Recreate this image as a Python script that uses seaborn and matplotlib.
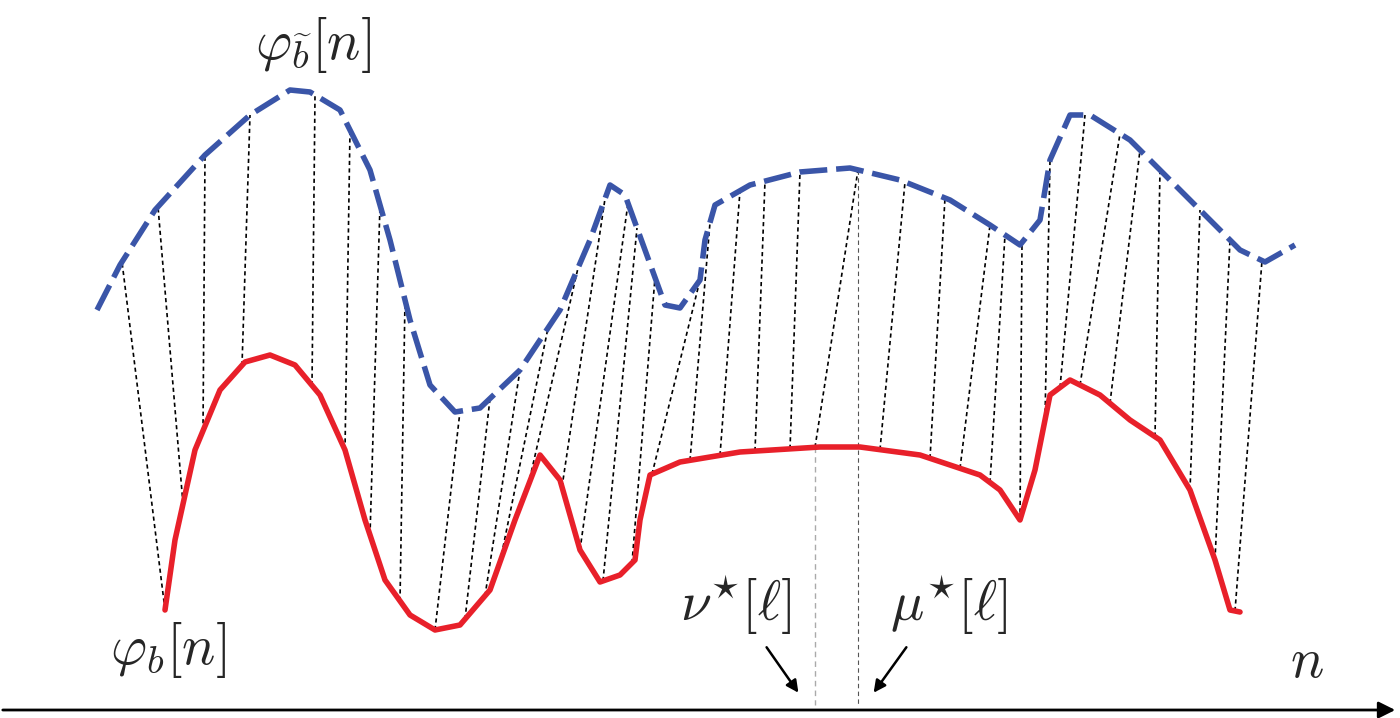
import numpy as np
import matplotlib
matplotlib.use("Agg")
import matplotlib.pyplot as plt
import seaborn as sns

sns.set_theme(style="white")
plt.rcParams['font.family'] = ['DejaVu Sans']
plt.rcParams['mathtext.fontset'] = 'cm'

red_x = [165,175,195,220,245,270,295,320,345,365,385,410,435,460,490,515,540,560,580,600,620,635,640,650,680,740,820,860,920,980,1000,1020,1035,1050,1070,1100,1130,1160,1190,1215,1230,1240]
red_y = [610,540,450,390,362,355,365,395,450,520,580,615,630,625,590,520,455,480,550,582,575,560,520,475,462,452,447,447,455,475,490,520,470,395,380,395,420,440,490,560,610,612]
blue_x = [97,120,155,205,250,290,310,340,370,390,410,430,455,480,520,560,590,610,625,645,665,680,700,705,715,750,800,850,900,950,990,1020,1040,1050,1070,1090,1130,1170,1210,1240,1265,1295]
blue_y = [310,265,210,155,115,90,92,110,170,240,320,385,412,408,370,310,240,185,195,250,305,308,280,240,205,185,172,168,180,200,225,245,220,160,115,115,140,180,220,250,262,245]

pair_red = [165,183,203,242,312,345,370,400,435,465,485,500,528,562,580,603,632,652,690,720,755,790,815,880,930,960,990,1020,1045,1060,1080,1110,1155,1190,1215,1235]
pair_blue = [122,158,205,250,315,350,380,405,460,490,520,548,578,605,628,637,655,700,710,740,765,800,858,905,945,990,1005,1022,1050,1085,1120,1140,1160,1200,1230,1262]

nu_x, mu_x = 815, 858

fig = plt.figure(figsize=(14, 7.18), dpi=100)
ax = fig.add_axes([0, 0, 1, 1])
ax.set_xlim(0, 1400)
ax.set_ylim(718, 0)
ax.axis('off')

ry = lambda x: np.interp(x, red_x, red_y)
by = lambda x: np.interp(x, blue_x, blue_y)
for a, b in zip(pair_red, pair_blue):
    ax.plot([a, b], [ry(a), by(b)], color='black', ls=(0, (2.5, 2)), lw=1.2, zorder=1)

ax.plot([nu_x, nu_x], [ry(nu_x), 705], color='#aaaaaa', ls=(0, (4, 3)), lw=1)
ax.plot([mu_x, mu_x], [by(mu_x), 705], color='#555555', ls=(0, (4, 3)), lw=0.8)

sns.lineplot(x=red_x, y=red_y, ax=ax, color='#e8202a', lw=4, sort=False, zorder=3)
sns.lineplot(x=blue_x, y=blue_y, ax=ax, color='#3a55a8', lw=4, sort=False, zorder=3,
             dashes=False, linestyle=(0, (5, 1.6)))

ax.annotate('', xy=(1398, 710), xytext=(0, 710),
            arrowprops=dict(arrowstyle='-|>', color='black', lw=2, mutation_scale=25))
ax.annotate('', xy=(800, 695), xytext=(765, 645),
            arrowprops=dict(arrowstyle='-|>', color='black', lw=1.8, mutation_scale=18))
ax.annotate('', xy=(872, 695), xytext=(908, 645),
            arrowprops=dict(arrowstyle='-|>', color='black', lw=1.8, mutation_scale=18))

fs = 40
ax.text(255, 45, r'$\varphi_{\widetilde{b}}[n]$', fontsize=fs, va='center')
ax.text(110, 650, r'$\varphi_b[n]$', fontsize=fs, va='center')
ax.text(680, 605, r'$\nu^{\star}[\ell]$', fontsize=fs, va='center')
ax.text(890, 605, r'$\mu^{\star}[\ell]$', fontsize=fs, va='center')
ax.text(1290, 662, r'$n$', fontsize=fs, va='center')

fig.savefig('out.png', dpi=100)
